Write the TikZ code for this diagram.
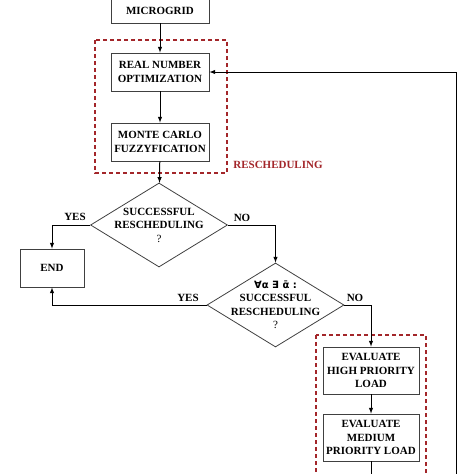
\documentclass[tikz,border=0pt]{standalone}
\usepackage{fontspec}
\setmainfont{Liberation Serif}
\newfontfamily\djvfont{DejaVu Sans}
\usepackage{xcolor}
\usetikzlibrary{arrows,shapes.geometric}
\definecolor{resred}{HTML}{A3262A}
\tikzset{
	box/.style={draw=black!75,line width=0.8pt,rectangle,minimum width=98pt,
		align=center,inner sep=1pt},
	dec/.style={draw=black!75,line width=0.8pt,diamond,minimum width=137pt,
		minimum height=84pt,inner sep=0pt},
	dectxt/.style={align=center,inner sep=0pt},
	group/.style={draw=resred,line width=1.3pt,dash pattern=on 4pt off 3pt},
	tag/.style={inner sep=0pt}
}
\begin{document}
\begin{tikzpicture}[x=1pt,y=-1pt,font=\fontsize{11}{13.5}\selectfont\bfseries]
		\useasboundingbox (0,0) rectangle (474,474);
		\node[box,minimum height=24pt] (MG) at (160,11) {MICROGRID};
		\node[box,minimum height=38pt] (RN) at (160,72) {REAL NUMBER\\OPTIMIZATION};
		\node[box,minimum height=38pt] (MC) at (160,142) {MONTE CARLO\\FUZZYFICATION};
		\node[dec,label={[dectxt]center:{SUCCESSFUL\\RESCHEDULING\\{\normalfont ?}}}] (D1) at (159,225) {};
		\node[box,minimum width=64pt,minimum height=38pt] (END) at (52,268) {END};
		\node[dec,label={[dectxt]center:{{\djvfont\fontsize{10}{12}\selectfont\bfseries ∀α ∃ ᾱ :}\\SUCCESSFUL\\RESCHEDULING\\{\normalfont ?}}}] (D2) at (275.5,305) {};
		\node[box,minimum width=96pt,minimum height=47pt] (HP) at (371,370.5) {EVALUATE\\HIGH PRIORITY\\LOAD};
		\node[box,minimum width=96pt,minimum height=47pt] (MP) at (371,437.5) {EVALUATE\\MEDIUM\\PRIORITY LOAD};
		\coordinate (OUT) at (371,480);
		\coordinate (FB) at (456,480);
		\coordinate (FBT) at (456,72);
		%
		\draw[group] (95,40) rectangle (227,173);
		\draw[group] (316,335) rectangle (426,482);
		\node[tag,text=resred] (RS) at (278,165) {RESCHEDULING};
		%
		\path[->,>=latex,line width=1pt]
			(MG) edge (RN)
			(RN) edge (MC)
			(MC) edge (D1)
			(HP) edge (MP)
			(MP) edge (OUT);
		\draw[->,>=latex,line width=1pt] (D1.west) -| (END.north);
		\draw[->,>=latex,line width=1pt] (D1.east) -| (D2.north);
		\draw[->,>=latex,line width=1pt] (D2.west) -| (END.south);
		\draw[->,>=latex,line width=1pt] (D2.east) -| (HP.north);
		\draw[->,>=latex,line width=1pt] (FB) -- (FBT) -- (RN.east);
		%
		\node[tag] (Y1) at (75,217) {YES};
		\node[tag] (N1) at (242,218) {NO};
		\node[tag] (Y2) at (188,298) {YES};
		\node[tag] (N2) at (355,298) {NO};
	\end{tikzpicture}
\end{document}
